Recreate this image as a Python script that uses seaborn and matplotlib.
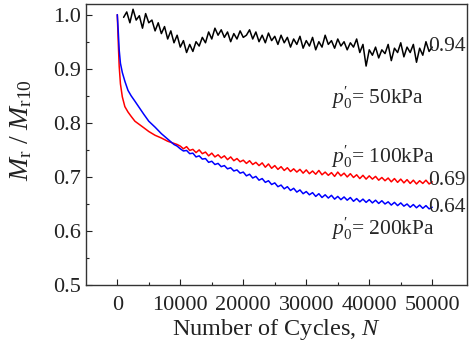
import numpy as np
import pandas as pd
import matplotlib
matplotlib.use("Agg")
import matplotlib.pyplot as plt
import seaborn as sns

# ---------------- data ----------------
n_50 = list(range(1000, 50001, 500))
m_50 = [0.995, 1.005, 0.985, 1.010, 0.990, 0.998, 0.975, 1.002, 0.985, 0.990,
        0.970, 0.985, 0.965, 0.978, 0.955, 0.970, 0.948, 0.962, 0.940, 0.952,
        0.930, 0.945, 0.932, 0.950, 0.942, 0.958, 0.948, 0.968, 0.955, 0.975,
        0.962, 0.972, 0.958, 0.968, 0.950, 0.965, 0.955, 0.970, 0.958, 0.962,
        0.972, 0.955, 0.968, 0.950, 0.962, 0.948, 0.966, 0.952, 0.960, 0.945,
        0.962, 0.948, 0.958, 0.940, 0.955, 0.945, 0.960, 0.938, 0.952, 0.942,
        0.958, 0.935, 0.950, 0.940, 0.962, 0.945, 0.952, 0.938, 0.955, 0.942,
        0.950, 0.935, 0.948, 0.940, 0.955, 0.930, 0.945, 0.905, 0.935, 0.925,
        0.940, 0.920, 0.935, 0.928, 0.945, 0.915, 0.938, 0.930, 0.948, 0.922,
        0.940, 0.930, 0.945, 0.912, 0.938, 0.925, 0.950, 0.932, 0.940]

n_early = [0, 150, 300, 500, 800, 1200, 1700, 2200, 2800, 3500, 4200, 5000,
           6000, 7000, 8000, 9000, 9500]
n_late = list(range(10000, 50001, 500))
n_100 = n_early + n_late
m_100 = [1.000, 0.950, 0.905, 0.872, 0.848, 0.830, 0.820, 0.812, 0.803, 0.797,
         0.791, 0.784, 0.777, 0.772, 0.766, 0.762, 0.760,
         0.757, 0.752, 0.756, 0.749, 0.751, 0.745, 0.750, 0.743, 0.746, 0.739,
         0.744, 0.737, 0.741, 0.735, 0.739, 0.732, 0.737, 0.730, 0.734, 0.728,
         0.731, 0.725, 0.730, 0.723, 0.727, 0.721, 0.726, 0.718, 0.724, 0.716,
         0.721, 0.714, 0.719, 0.712, 0.717, 0.710, 0.715, 0.709, 0.714, 0.707,
         0.713, 0.706, 0.711, 0.705, 0.712, 0.704, 0.709, 0.703, 0.708, 0.701,
         0.709, 0.702, 0.707, 0.700, 0.706, 0.699, 0.704, 0.697, 0.703, 0.696,
         0.702, 0.696, 0.701, 0.694, 0.699, 0.693, 0.698, 0.691, 0.697, 0.690,
         0.696, 0.689, 0.695, 0.688, 0.694, 0.687, 0.693, 0.688, 0.694, 0.687,
         0.691]

n_200 = n_early + n_late
m_200 = [1.000, 0.970, 0.935, 0.910, 0.893, 0.877, 0.860, 0.850, 0.840, 0.828,
         0.816, 0.803, 0.792, 0.780, 0.770, 0.760, 0.757,
         0.752, 0.748, 0.749, 0.743, 0.744, 0.737, 0.739, 0.733, 0.734, 0.727,
         0.729, 0.723, 0.725, 0.719, 0.721, 0.715, 0.717, 0.711, 0.713, 0.707,
         0.709, 0.702, 0.705, 0.698, 0.701, 0.694, 0.697, 0.690, 0.693, 0.686,
         0.689, 0.682, 0.685, 0.678, 0.682, 0.675, 0.679, 0.672, 0.676, 0.669,
         0.673, 0.667, 0.671, 0.664, 0.669, 0.662, 0.667, 0.661, 0.666, 0.659,
         0.664, 0.658, 0.663, 0.657, 0.662, 0.655, 0.660, 0.654, 0.659, 0.653,
         0.658, 0.652, 0.657, 0.651, 0.656, 0.650, 0.654, 0.648, 0.653, 0.647,
         0.652, 0.646, 0.650, 0.644, 0.649, 0.643, 0.648, 0.642, 0.647, 0.641,
         0.644]

series_names = ["50kPa", "100kPa", "200kPa"]
series_colors = {"50kPa": "black", "100kPa": "red", "200kPa": "blue"}
end_labels = ["0.94", "0.69", "0.64"]
x_ticks = [0, 10000, 20000, 30000, 40000, 50000]
y_ticks = [0.5, 0.6, 0.7, 0.8, 0.9, 1.0]

df = pd.concat([
    pd.DataFrame({"N": n_50, "M": m_50, "p": "50kPa"}),
    pd.DataFrame({"N": n_100, "M": m_100, "p": "100kPa"}),
    pd.DataFrame({"N": n_200, "M": m_200, "p": "200kPa"}),
], ignore_index=True)

# ---------------- style ----------------
sns.set_style("ticks")
plt.rcParams["font.family"] = ["Liberation Serif", "DejaVu Serif"]
plt.rcParams["mathtext.fontset"] = "custom"
plt.rcParams["mathtext.rm"] = "Liberation Serif"
plt.rcParams["mathtext.it"] = "Liberation Serif:italic"

fig = plt.figure(figsize=(4.74, 3.49), dpi=100)
ax = fig.add_axes([0.181, 0.183, 0.804, 0.806])

sns.lineplot(data=df, x="N", y="M", hue="p", palette=series_colors,
             hue_order=series_names, estimator=None, sort=False,
             linewidth=1.1, legend=False, ax=ax)

ax.set_xlim(-5000, 55500)
ax.set_ylim(0.5, 1.02)
ax.set_xticks(x_ticks)
ax.set_xticklabels([str(t) for t in x_ticks])
ax.set_yticks(y_ticks)
ax.set_yticklabels([f"{t:.1f}" for t in y_ticks])
ax.set_xticks([5000, 15000, 25000, 35000, 45000], minor=True)
ax.set_yticks([0.55, 0.65, 0.75, 0.85, 0.95], minor=True)
ax.tick_params(axis="both", which="both", direction="in", labelsize=16,
               top=False, right=False, colors="#222222")
ax.tick_params(axis="x", which="major", pad=8)
ax.tick_params(which="major", length=4, width=0.8)
ax.tick_params(which="minor", length=2.5, width=0.8)
for s in ax.spines.values():
    s.set_linewidth(1.0)
    s.set_color("#333333")

ax.set_xlabel(r"Number of Cycles, $N$", fontsize=17.5, labelpad=1,
              color="#222222")
ax.set_ylabel(r"$M_{\rm r}\ /\ M_{\rm r10}$", fontsize=20, labelpad=0,
              color="#222222")
ax.yaxis.set_label_coords(-0.135, 0.55)

fs = 15.5
ax.text(49300, 0.941, end_labels[0], fontsize=fs, ha="left", va="center")
ax.text(49300, 0.694, end_labels[1], fontsize=fs, ha="left", va="center")
ax.text(49300, 0.643, end_labels[2], fontsize=fs, ha="left", va="center")
ax.text(34000, 0.846, r"$p^{\prime}_{0}$= 50kPa", fontsize=fs, ha="left", va="center")
ax.text(34000, 0.737, r"$p^{\prime}_{0}$= 100kPa", fontsize=fs, ha="left", va="center")
ax.text(34000, 0.605, r"$p^{\prime}_{0}$= 200kPa", fontsize=fs, ha="left", va="center")

fig.savefig("out.png", dpi=100)
